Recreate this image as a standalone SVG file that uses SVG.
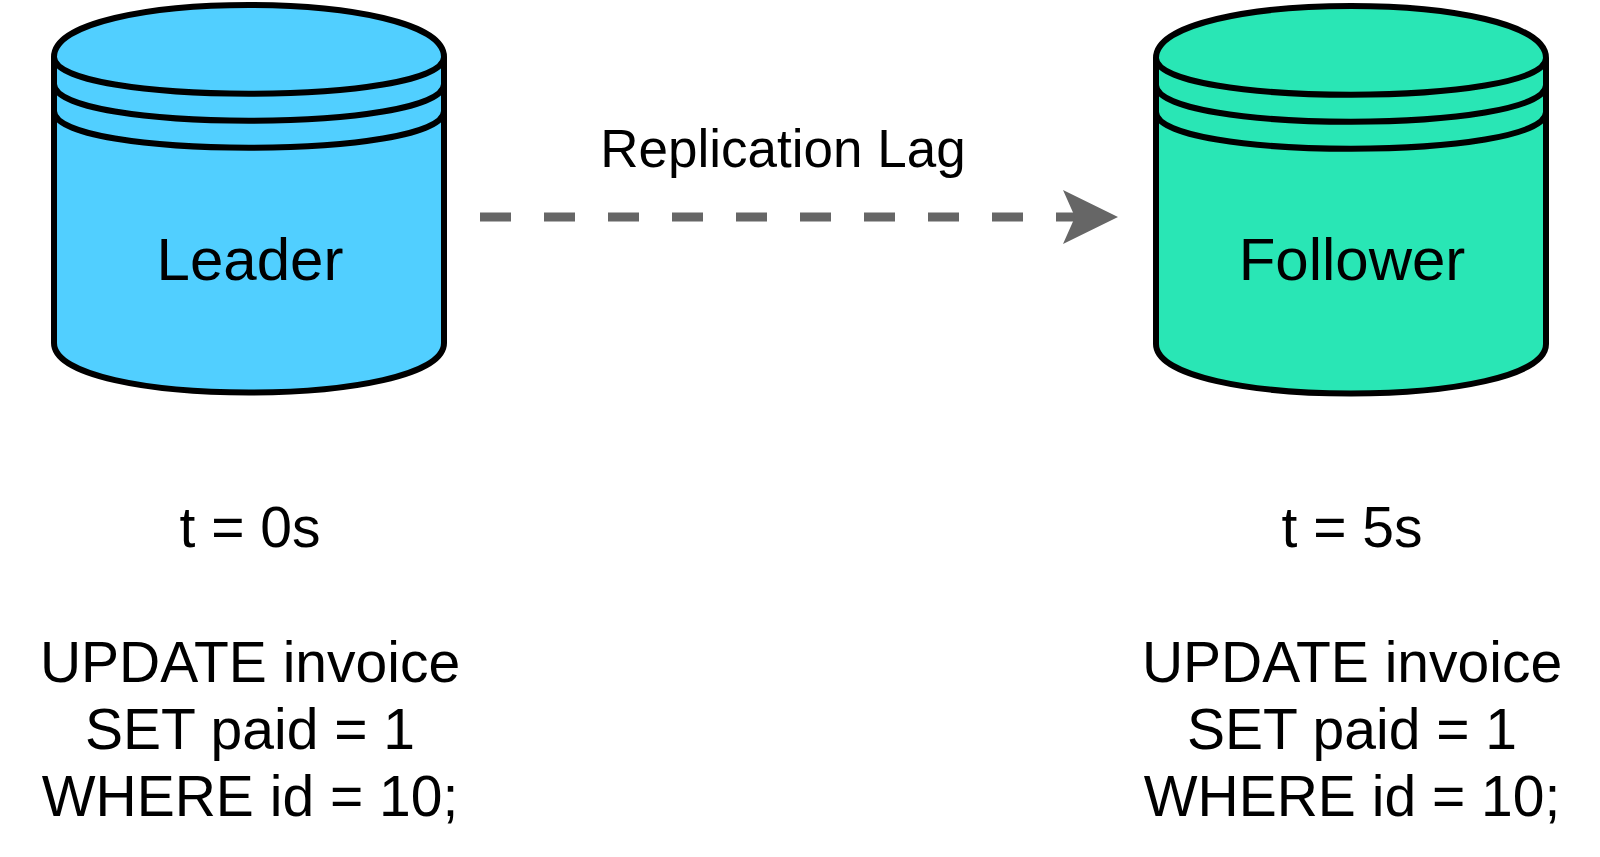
<svg xmlns="http://www.w3.org/2000/svg" width="1600" height="857" viewBox="0 0 1600 857">
  <style>
    .db { stroke: #000000; stroke-width: 6; stroke-linejoin: round; }
    .ring { fill: none; stroke: #000000; stroke-width: 6; }
    .leader { fill: #51CFFF; }
    .follower { fill: #29E6B5; }
    text { font-family: "Liberation Sans", Arial, Helvetica, sans-serif; fill: #000000; text-anchor: middle; }
    .title { font-size: 60px; }
    .lbl { font-size: 57px; }
    .edge-label { font-size: 53px; }
    .edge { fill: none; stroke: #666666; stroke-width: 9; stroke-dasharray: 31 33; }
  </style>
  <defs>
    <marker id="arrow" markerUnits="userSpaceOnUse" viewBox="0 0 56 56" markerWidth="56" markerHeight="56" refX="13" refY="28" orient="auto">
      <path d="M1,1 L56,28 L1,55 L13,28 Z" fill="#666666"/>
    </marker>
  </defs>

  <rect width="1600" height="857" fill="#FFFFFF"/>

  <g id="leader">
    <path class="db leader" d="M54,57 C54,-12.3 444,-12.3 444,57 L444,343 C444,409 54,409 54,343 Z"/>
    <path class="ring" d="M54,57 C54,106 444,106 444,57"/>
    <path class="ring" d="M54,84 C54,133 444,133 444,84"/>
    <path class="ring" d="M54,111 C54,160 444,160 444,111"/>
    <text class="title" x="250" y="280">Leader</text>
  </g>

  <g id="follower">
    <path class="db follower" d="M1156,58 C1156,-11.3 1546,-11.3 1546,58 L1546,344 C1546,410 1156,410 1156,344 Z"/>
    <path class="ring" d="M1156,58 C1156,107 1546,107 1546,58"/>
    <path class="ring" d="M1156,85 C1156,134 1546,134 1546,85"/>
    <path class="ring" d="M1156,112 C1156,161 1546,161 1546,112"/>
    <text class="title" x="1352" y="280">Follower</text>
  </g>

  <g id="leader-label">
    <text class="lbl" x="250" y="547">t = 0s</text>
    <text class="lbl" x="250" y="682">UPDATE invoice</text>
    <text class="lbl" x="250" y="749">SET paid = 1</text>
    <text class="lbl" x="250" y="816">WHERE id = 10;</text>
  </g>

  <g id="follower-label">
    <text class="lbl" x="1352" y="547">t = 5s</text>
    <text class="lbl" x="1352" y="682">UPDATE invoice</text>
    <text class="lbl" x="1352" y="749">SET paid = 1</text>
    <text class="lbl" x="1352" y="816">WHERE id = 10;</text>
  </g>

  <g id="connectors">
    <path class="edge" d="M480,217 L1075,217" marker-end="url(#arrow)"/>
    <text class="edge-label" x="783" y="167">Replication Lag</text>
  </g>
</svg>
